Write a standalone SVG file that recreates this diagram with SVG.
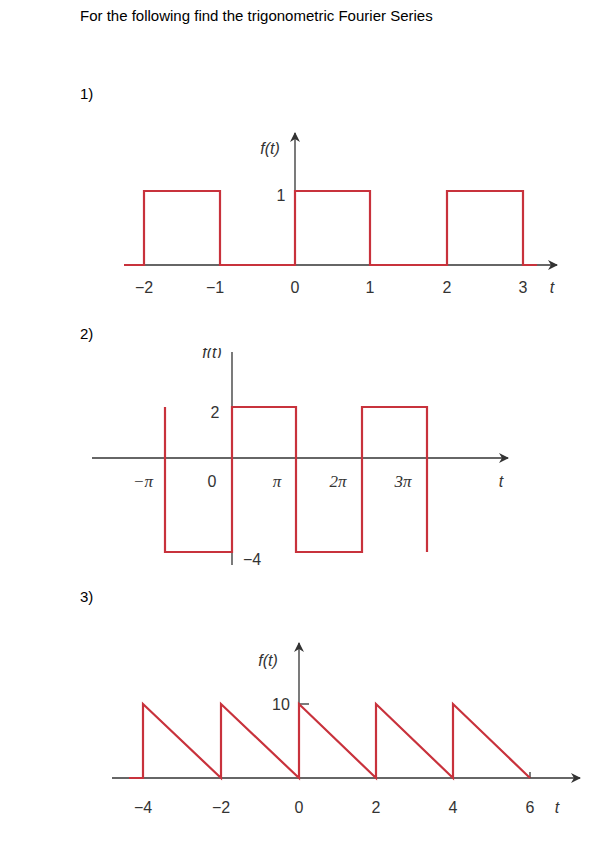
<svg xmlns="http://www.w3.org/2000/svg" width="615" height="855" viewBox="0 0 615 855">
<style>
text{font-family:"Liberation Sans",Arial,sans-serif;fill:#333}
.t{font-size:15px;fill:#000}
.l{font-size:16px;text-anchor:middle}
.i{font-style:italic}
.p{font-family:"Liberation Serif",serif;font-style:italic;font-size:17px}
.ax{stroke:#333;stroke-width:1.3;fill:none}
.sig{stroke:#c8323c;stroke-width:2.2;fill:none}
</style>
<defs>
<marker id="ar" viewBox="0 0 10 10" refX="9" refY="5" markerWidth="10" markerHeight="10" markerUnits="userSpaceOnUse" orient="auto"><path d="M0,0L10,5L0,10L3,5z" fill="#333"/></marker>
<clipPath id="cl"><rect x="150" y="348" width="120" height="10"/></clipPath>
</defs>
<text class="t" x="80" y="21">For the following find the trigonometric Fourier Series</text>
<text class="t" x="80" y="99">1)</text>
<text class="t" x="80" y="339">2)</text>
<text class="t" x="80" y="602">3)</text>
<g id="connectors">
<line class="ax" x1="124" y1="265" x2="557" y2="265" marker-end="url(#ar)"/>
<line class="ax" x1="295" y1="265" x2="295" y2="133" marker-end="url(#ar)"/>
<line class="ax" x1="92" y1="458" x2="508" y2="458" marker-end="url(#ar)"/>
<line class="ax" x1="232" y1="352" x2="232" y2="565"/>
<line class="ax" x1="112" y1="778" x2="580" y2="778" marker-end="url(#ar)"/>
<line class="ax" x1="299" y1="778" x2="299" y2="643" marker-end="url(#ar)"/>
<line class="ax" x1="299" y1="704" x2="309" y2="704"/>
<line class="ax" x1="530" y1="772" x2="530" y2="778"/>
</g>
<g id="graph1">
<path class="sig" d="M124,265H144V191H220V265H295V191H370V265H447V191H523V265H537"/>
<text class="l i" x="270" y="154">f(t)</text>
<text class="l" x="281" y="201">1</text>
<text class="l" x="144" y="293">−2</text>
<text class="l" x="215" y="293">−1</text>
<text class="l" x="295" y="293">0</text>
<text class="l" x="370" y="293">1</text>
<text class="l" x="447" y="293">2</text>
<text class="l" x="523" y="293">3</text>
<text class="l i" x="552" y="293">t</text>
</g>
<g id="graph2">
<path class="sig" d="M165,407V552H232V407H296V552H362V407H427V552"/>
<text class="l i" x="212" y="358" clip-path="url(#cl)">f(t)</text>
<text class="l" x="215" y="418">2</text>
<text class="l" x="252" y="565">−4</text>
<text class="l p" x="143" y="487">−π</text>
<text class="l" x="212" y="487">0</text>
<text class="l p" x="277" y="487">π</text>
<text class="l p" x="338" y="487">2π</text>
<text class="l p" x="403" y="487">3π</text>
<text class="l i" x="501" y="487">t</text>
</g>
<g id="graph3">
<path class="sig" d="M129,778H143V704L221,778V704L299,778V704L376,778V704L453,778V704L530,778"/>
<text class="l i" x="268" y="666">f(t)</text>
<text class="l" x="281" y="710">10</text>
<text class="l" x="143" y="813">−4</text>
<text class="l" x="221" y="813">−2</text>
<text class="l" x="299" y="813">0</text>
<text class="l" x="376" y="813">2</text>
<text class="l" x="453" y="813">4</text>
<text class="l" x="530" y="813">6</text>
<text class="l i" x="557" y="813">t</text>
</g>
</svg>
